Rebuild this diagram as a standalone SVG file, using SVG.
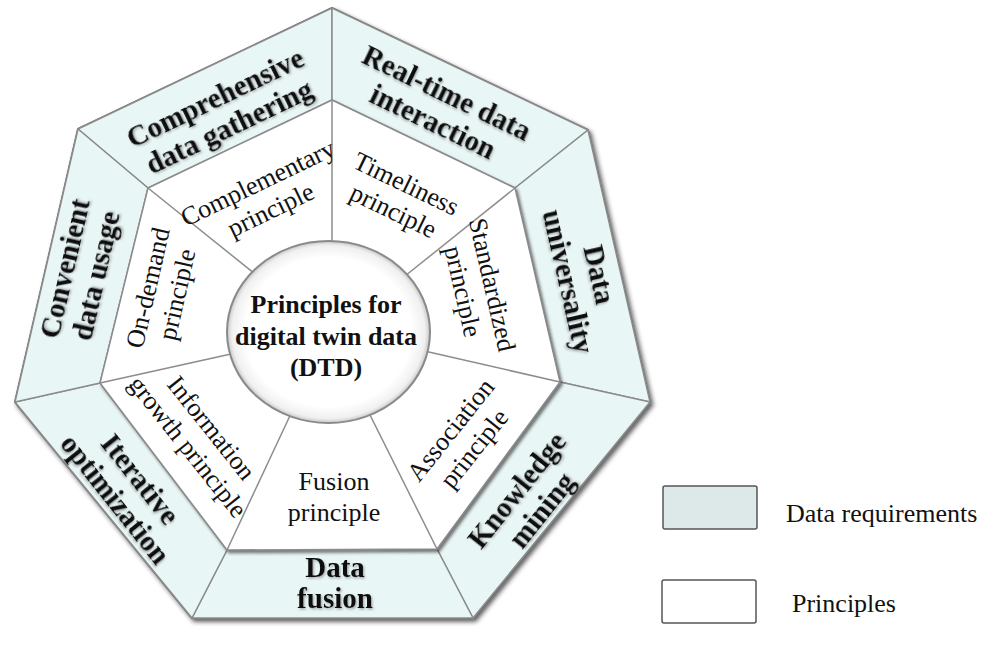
<svg xmlns="http://www.w3.org/2000/svg" width="1000" height="654" viewBox="0 0 1000 654">
<defs>
<filter id="sh" x="-10%" y="-10%" width="120%" height="120%">
<feDropShadow dx="2.5" dy="3" stdDeviation="2" flood-color="#222" flood-opacity="0.7"/>
</filter>
<filter id="sh2" x="-10%" y="-10%" width="120%" height="120%">
<feDropShadow dx="2" dy="2.5" stdDeviation="1.8" flood-color="#222" flood-opacity="0.6"/>
</filter>
<filter id="tsh" x="-10%" y="-20%" width="120%" height="140%">
<feDropShadow dx="1.2" dy="1.5" stdDeviation="1" flood-color="#666" flood-opacity="0.55"/>
</filter>
<radialGradient id="cg" cx="0.5" cy="0.5" r="0.5">
<stop offset="0.82" stop-color="#ffffff"/>
<stop offset="0.95" stop-color="#f0f0f0"/>
<stop offset="1" stop-color="#c8c8c8"/>
</radialGradient>
<style>
.band{fill:#e9f6f6;stroke:#8c8c8c;stroke-width:1.5;stroke-linejoin:round}
.outer{fill:#e9f6f6;stroke:#6a6a6a;stroke-width:2;stroke-linejoin:round}
.inner{fill:#ffffff;stroke:#8c8c8c;stroke-width:1.5;stroke-linejoin:round}
.spoke{stroke:#8c8c8c;stroke-width:1.5;fill:none}
.bt{font-family:"Liberation Serif","Times New Roman",serif;font-weight:bold;font-size:29px;fill:#111;text-anchor:middle}
.pt{font-family:"Liberation Serif","Times New Roman",serif;font-size:26px;fill:#111;text-anchor:middle}
.ct{font-family:"Liberation Serif","Times New Roman",serif;font-weight:bold;font-size:26px;fill:#111;text-anchor:middle}
.lt{font-family:"Liberation Serif","Times New Roman",serif;font-size:26px;fill:#111}
</style>
</defs>
<rect width="1000" height="654" fill="#ffffff"/>

<!-- outer shape with shadow -->
<polygon class="outer" filter="url(#sh)" points="332,8 588,130 650,402 473,618 192,618 15,402 78,129"/>

<!-- data requirement bands -->
<g id="band-comprehensive">
<polygon class="band" points="78,129 332,8 332,100 148,188"/>
<g transform="translate(222,112) rotate(-25.71)" filter="url(#tsh)"><text class="bt" y="-6">Comprehensive</text><text class="bt" y="26">data gathering</text></g>
</g>
<g id="band-realtime">
<polygon class="band" points="332,8 588,130 515,188 332,100"/>
<g transform="translate(440,107) rotate(25.71)" filter="url(#tsh)"><text class="bt" y="-6">Real-time data</text><text class="bt" y="26">interaction</text></g>
</g>
<g id="band-universality">
<polygon class="band" points="588,130 650,402 560,382 515,188"/>
<g transform="translate(584,278) rotate(77.14)" filter="url(#tsh)"><text class="bt" y="-6">Data</text><text class="bt" y="26">universality</text></g>
</g>
<g id="band-knowledge">
<polygon class="band" points="650,402 473,618 437,549 560,382"/>
<g transform="translate(529,500) rotate(-51.43)" filter="url(#tsh)"><text class="bt" y="-6">Knowledge</text><text class="bt" y="26">mining</text></g>
</g>
<g id="band-fusion">
<polygon class="band" points="473,618 192,618 227,550 437,549"/>
<g filter="url(#tsh)"><text class="bt" x="335" y="577">Data</text><text class="bt" x="335" y="608">fusion</text></g>
</g>
<g id="band-iterative">
<polygon class="band" points="192,618 15,402 100,383 227,550"/>
<g transform="translate(128,489) rotate(51.43)" filter="url(#tsh)"><text class="bt" y="-6">Iterative</text><text class="bt" y="26">optimization</text></g>
</g>
<g id="band-convenient">
<polygon class="band" points="15,402 78,129 148,188 100,383"/>
<g transform="translate(80,272) rotate(-77.14)" filter="url(#tsh)"><text class="bt" y="-6">Convenient</text><text class="bt" y="26">data usage</text></g>
</g>

<!-- principles area -->
<polygon class="inner" filter="url(#sh2)" points="332,100 515,188 560,382 437,549 227,550 100,383 148,188"/>

<g id="connectors">
<line class="spoke" x1="332" y1="100" x2="332" y2="250"/>
<line class="spoke" x1="515" y1="188" x2="400" y2="280"/>
<line class="spoke" x1="560" y1="382" x2="420" y2="350"/>
<line class="spoke" x1="437" y1="549" x2="365" y2="405"/>
<line class="spoke" x1="227" y1="550" x2="295" y2="405"/>
<line class="spoke" x1="100" y1="383" x2="240" y2="352"/>
<line class="spoke" x1="148" y1="188" x2="260" y2="278"/>
</g>

<g id="p-complementary"><g transform="translate(264,196) rotate(-25.71)"><text class="pt" y="-6">Complementary</text><text class="pt" y="24">principle</text></g></g>
<g id="p-timeliness"><g transform="translate(400,197) rotate(25.71)"><text class="pt" y="-6">Timeliness</text><text class="pt" y="24">principle</text></g></g>
<g id="p-standardized"><g transform="translate(478,288) rotate(77.14)"><text class="pt" y="-6">Standardized</text><text class="pt" y="24">principle</text></g></g>
<g id="p-association"><g transform="translate(462,439) rotate(-51.43)"><text class="pt" y="-6">Association</text><text class="pt" y="24">principle</text></g></g>
<g id="p-fusion"><text class="pt" x="334" y="490">Fusion</text><text class="pt" x="334" y="521">principle</text></g>
<g id="p-information"><g transform="translate(200,437) rotate(51.43)"><text class="pt" y="-6">Information</text><text class="pt" y="24">growth principle</text></g></g>
<g id="p-ondemand"><g transform="translate(162,291) rotate(-77.14)"><text class="pt" y="-6">On-demand</text><text class="pt" y="24">principle</text></g></g>

<g id="center">
<ellipse cx="328.5" cy="332" rx="101.5" ry="91" fill="url(#cg)" stroke="#8a8a8a" stroke-width="2"/>
<text class="ct" x="326" y="313">Principles for</text>
<text class="ct" x="326" y="345">digital twin data</text>
<text class="ct" x="326" y="376">(DTD)</text>
</g>

<g id="legend-requirements">
<rect x="663" y="486" width="94" height="43" rx="2" fill="#dde9e9" stroke="#555" stroke-width="1.5"/>
<text class="lt" x="786" y="522">Data requirements</text>
</g>
<g id="legend-principles">
<rect x="662" y="580" width="94" height="43" rx="2" fill="#ffffff" stroke="#555" stroke-width="1.5"/>
<text class="lt" x="792" y="612">Principles</text>
</g>
</svg>
